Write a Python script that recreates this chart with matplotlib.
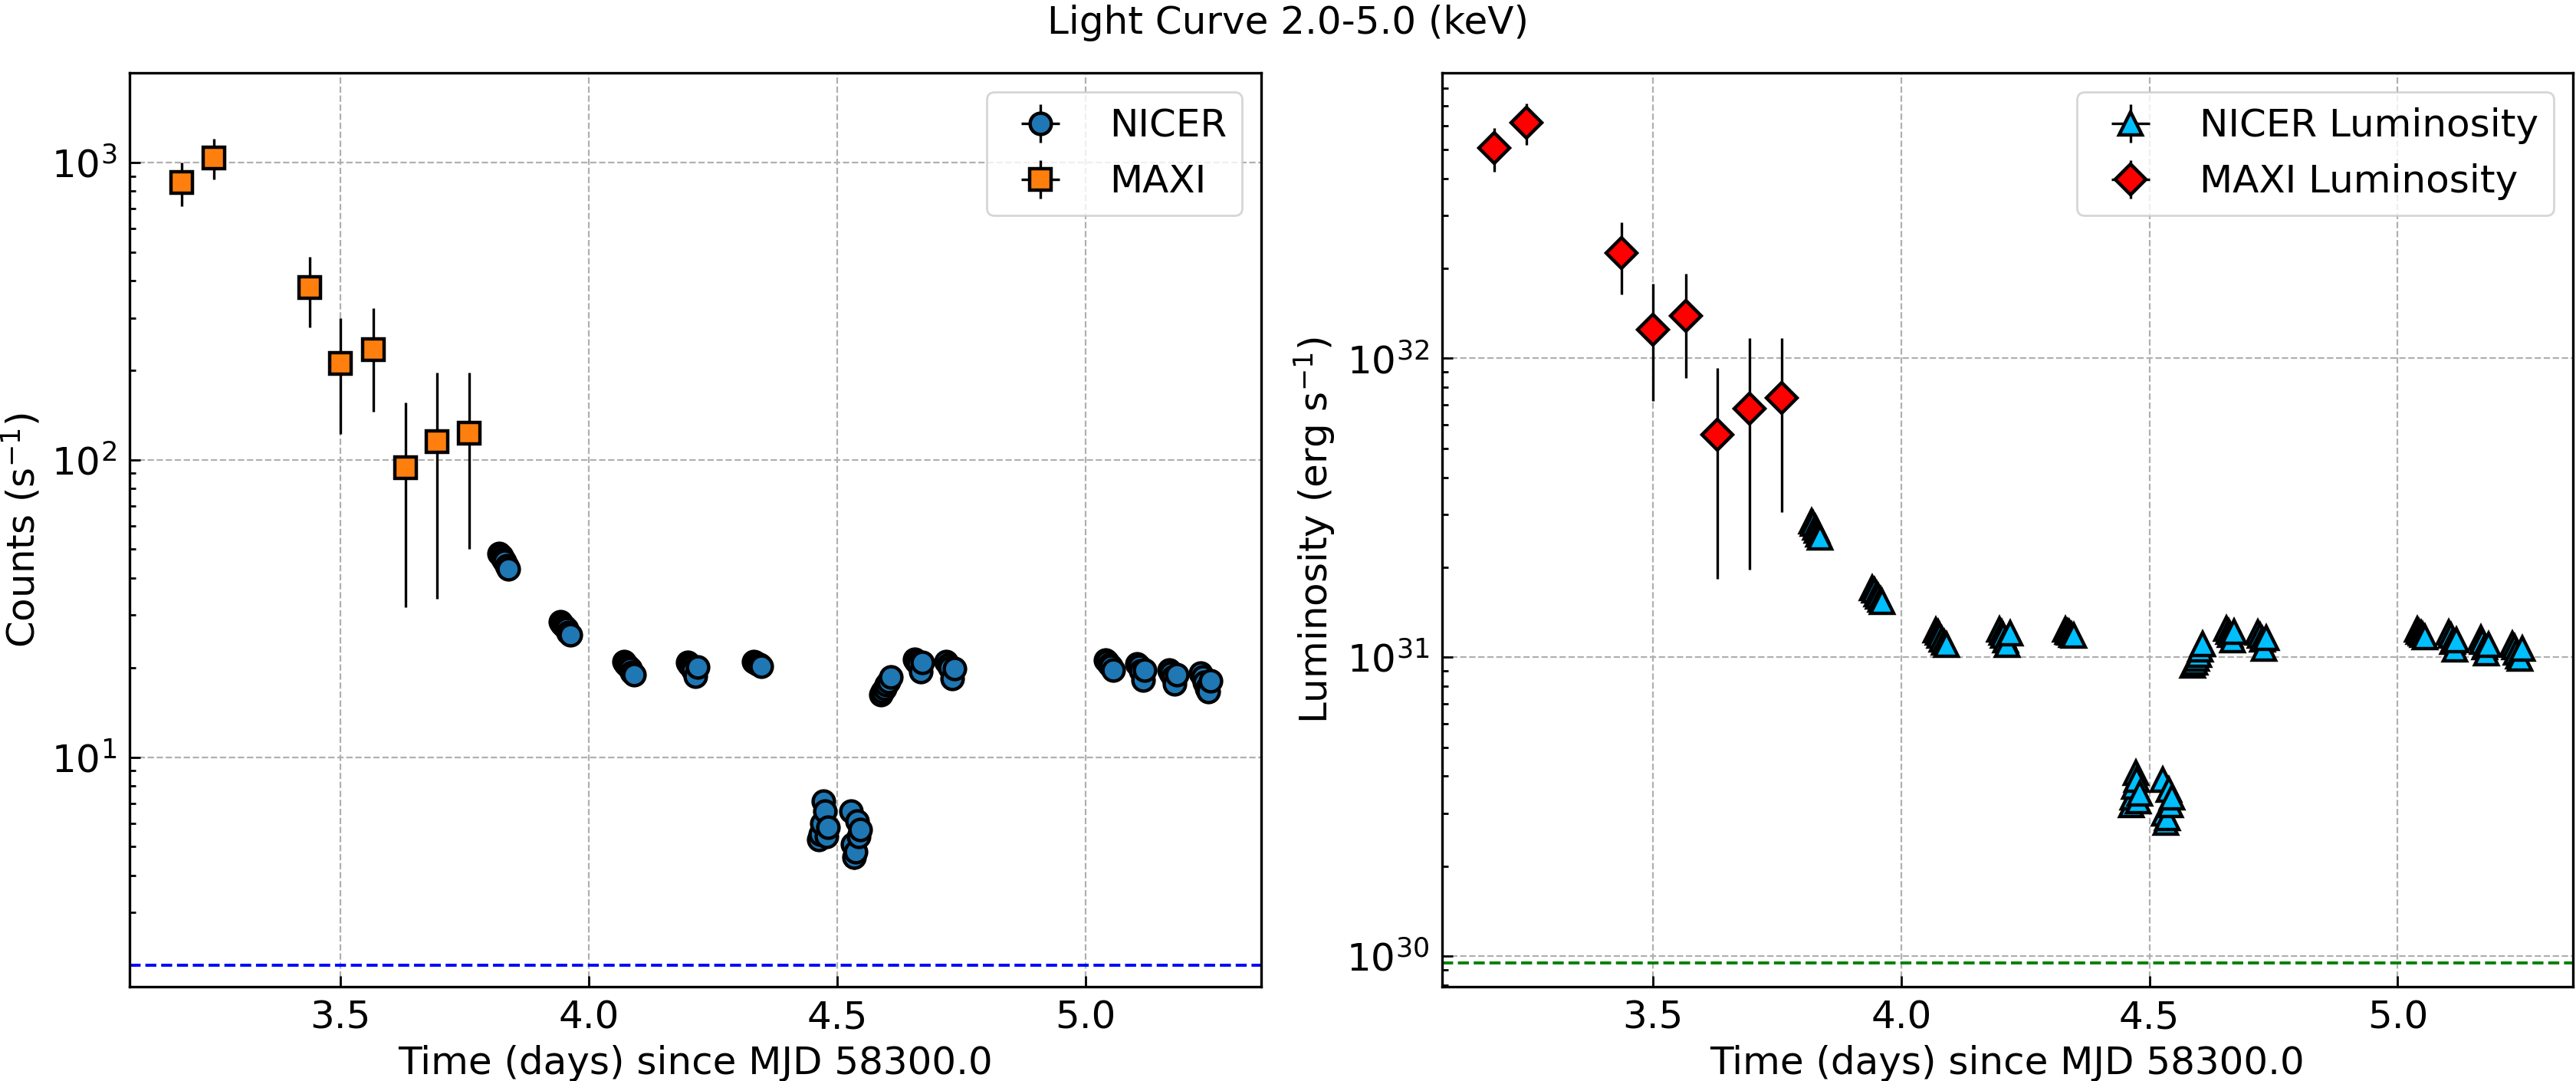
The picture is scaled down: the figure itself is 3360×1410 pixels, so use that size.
#!/usr/bin/env python3
"""Light curve 2.0-5.0 keV: NICER / MAXI counts and luminosity."""

import matplotlib
matplotlib.use('Agg')
import matplotlib.pyplot as plt

# NICER observations (days since MJD 58300.0), one row per snapshot cluster
nicer_t = [
    3.819, 3.823, 3.827, 3.830, 3.834, 3.837,
    3.942, 3.946, 3.950, 3.954, 3.958, 3.962,
    4.070, 4.074, 4.078, 4.082, 4.086, 4.091,
    4.198, 4.202, 4.206, 4.210, 4.214, 4.219,
    4.331, 4.335, 4.339, 4.343, 4.347,
    4.463, 4.466, 4.469, 4.472, 4.475, 4.478, 4.481,
    4.527, 4.530, 4.533, 4.536, 4.539, 4.542, 4.545,
    4.587, 4.591, 4.595, 4.599, 4.603, 4.607,
    4.655, 4.659, 4.663, 4.667, 4.671,
    4.719, 4.723, 4.727, 4.731, 4.735,
    5.039, 5.043, 5.047, 5.051, 5.055,
    5.103, 5.107, 5.111, 5.115, 5.119,
    5.167, 5.171, 5.175, 5.179, 5.183,
    5.231, 5.235, 5.239, 5.243, 5.247, 5.251,
]
nicer_counts = [
    48.5, 47.5, 46.5, 45.5, 44.0, 43.0,
    28.5, 28.0, 27.5, 27.0, 26.3, 25.8,
    21.0, 20.6, 20.2, 19.8, 19.3, 18.9,
    20.8, 20.5, 20.1, 19.6, 18.7, 20.1,
    21.0, 20.8, 20.6, 20.4, 20.2,
    5.3, 5.5, 6.0, 7.1, 6.6, 5.4, 5.8,
    6.6, 5.1, 4.6, 4.8, 6.1, 5.4, 5.7,
    16.2, 16.6, 17.0, 17.5, 18.0, 18.6,
    21.3, 21.0, 20.6, 19.4, 20.8,
    20.9, 20.5, 20.0, 18.4, 19.9,
    21.2, 20.9, 20.5, 20.2, 19.6,
    20.6, 20.2, 19.5, 18.2, 19.6,
    19.6, 19.2, 18.6, 17.6, 18.9,
    19.2, 18.6, 17.8, 17.0, 16.6, 18.1,
]
nicer_lum = [
    2.85e31, 2.80e31, 2.72e31, 2.65e31, 2.58e31, 2.52e31,
    1.70e31, 1.67e31, 1.63e31, 1.60e31, 1.56e31, 1.53e31,
    1.23e31, 1.21e31, 1.18e31, 1.15e31, 1.12e31, 1.10e31,
    1.24e31, 1.21e31, 1.18e31, 1.14e31, 1.10e31, 1.20e31,
    1.24e31, 1.22e31, 1.21e31, 1.19e31, 1.18e31,
    3.2e30, 3.4e30, 3.7e30, 4.1e30, 3.9e30, 3.3e30, 3.5e30,
    3.9e30, 3.0e30, 2.8e30, 2.9e30, 3.6e30, 3.2e30, 3.4e30,
    9.4e30, 9.6e30, 9.9e30, 1.02e31, 1.06e31, 1.11e31,
    1.25e31, 1.22e31, 1.19e31, 1.14e31, 1.22e31,
    1.21e31, 1.18e31, 1.15e31, 1.07e31, 1.16e31,
    1.24e31, 1.22e31, 1.20e31, 1.19e31, 1.17e31,
    1.21e31, 1.18e31, 1.13e31, 1.06e31, 1.14e31,
    1.16e31, 1.13e31, 1.08e31, 1.03e31, 1.10e31,
    1.11e31, 1.08e31, 1.04e31, 1.01e31, 0.99e31, 1.07e31,
]
NICER_TERR = 0.001
NICER_CERR = 0.4
NICER_LERR = 2e29

# MAXI points
maxi_t = [3.180, 3.245, 3.437, 3.500, 3.566, 3.630, 3.694, 3.759]
maxi_counts = [855, 1038, 380, 211, 234, 94, 115, 123]
maxi_counts_err = [142, 160, 101, 89, 89, 62, 81, 73]
maxi_lum = [5.06e32, 6.15e32, 2.25e32, 1.25e32, 1.39e32, 5.57e31, 6.81e31, 7.36e31]
maxi_lum_err = [0.84e32, 0.98e32, 0.61e32, 0.53e32, 0.53e32, 3.74e31, 4.85e31, 4.30e31]
MAXI_TERR = 0.005

# background / limit levels
COUNT_LEVEL = 2.0
LUM_LEVEL = 9.5e29

FS = 18
TICK_FS = 18


def style_ax(ax):
    ax.set_yscale('log')
    ax.grid(True, which='major', linestyle='--', color='#b0b0b0', linewidth=0.8)
    ax.tick_params(which='both', direction='in', labelsize=TICK_FS, width=1.0, pad=6)
    ax.tick_params(which='major', length=5)
    ax.tick_params(which='minor', length=3)
    for s in ax.spines.values():
        s.set_linewidth(1.2)
    ax.set_xlabel('Time (days) since MJD 58300.0', fontsize=FS)


fig = plt.figure(figsize=(16.8, 7.05), dpi=200)
ax1 = fig.add_axes([0.0503, 0.0872, 0.4393, 0.8451])
ax2 = fig.add_axes([0.5598, 0.0872, 0.4390, 0.8451])

ekw = dict(ecolor='k', elinewidth=1.2, capsize=0, linestyle='none', mec='k', mew=1.6)

# left: counts
ax1.errorbar(nicer_t, nicer_counts, xerr=NICER_TERR, yerr=NICER_CERR, fmt='o',
             color='#1f77b4', ms=10, label='NICER', **ekw)
ax1.errorbar(maxi_t, maxi_counts, xerr=MAXI_TERR, yerr=maxi_counts_err, fmt='s',
             color='#ff7f0e', ms=10, label='MAXI', **ekw)
ax1.axhline(COUNT_LEVEL, color='blue', linestyle='--', linewidth=1.4)
style_ax(ax1)
ax1.set_ylabel('Counts (s$^{-1}$)', fontsize=FS)
ax1.set_xlim(3.075, 5.353)
ax1.set_ylim(1.69, 1995)
ax1.legend(loc='upper right', fontsize=FS)

# right: luminosity
ax2.errorbar(nicer_t, nicer_lum, xerr=NICER_TERR, yerr=NICER_LERR, fmt='^',
             color='deepskyblue', ms=11, label='NICER Luminosity', **ekw)
ax2.errorbar(maxi_t, maxi_lum, xerr=MAXI_TERR, yerr=maxi_lum_err, fmt='D',
             color='red', ms=10, label='MAXI Luminosity', **ekw)
ax2.axhline(LUM_LEVEL, color='green', linestyle='--', linewidth=1.4)
style_ax(ax2)
ax2.set_ylabel('Luminosity (erg s$^{-1}$)', fontsize=FS)
ax2.set_xlim(3.075, 5.353)
ax2.set_ylim(7.9e29, 9.0e32)
ax2.legend(loc='upper right', fontsize=FS)

fig.suptitle('Light Curve 2.0-5.0 (keV)', fontsize=FS, y=0.979, va='center')

fig.savefig('out.png', dpi=200)
plt.close(fig)
